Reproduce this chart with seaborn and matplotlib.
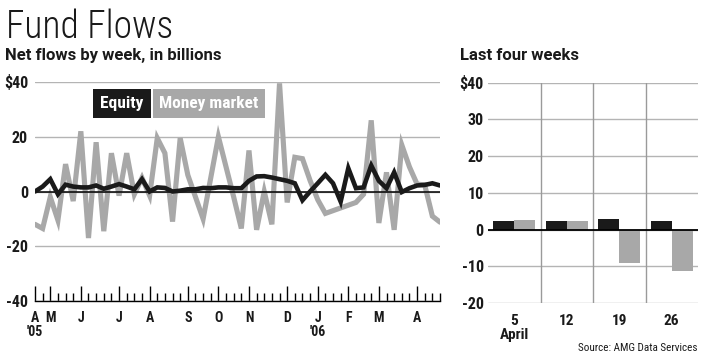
import pandas as pd
import matplotlib
matplotlib.use("Agg")
import matplotlib.pyplot as plt
from matplotlib.patches import Rectangle
import seaborn as sns


# ----------------------- Data
weeks = pd.date_range("2005-04-20", "2006-04-26", freq="7D")  # weekly, 54 points

equity = [0, 1.8, 4.5, -1, 2.5, 1.8, 1.5, 1.5, 2.2, 1, 1.8, 2.7, 1.8, 0.8,
          4.5, 0, 1.5, 1.3, 0, 0.3, 0.8, 0.8, 1.3, 1.2, 1.5, 1.5, 1.2, 1.2,
          3.9, 5.5, 5.6, 5.1, 4.5, 3.9, 3, -3.2, 0, 3, 6.1, 3, -3.7, 8.5,
          1.2, 1.5, 9.5, 3.9, 1.2, 7, -0.2, 1.2, 2.2, 2.4, 3.0, 2.2]

money_market = [-12, -13.5, -2, -10.5, 10, -3.5, 22, -17, 18, -14.5, 14, -1.5,
                14, -1, 5, -1.5, 19.5, 14, -11, 19.5, 6, -2, -10, 5, 20, 9,
                -2, -13.5, 15, -14, 0, -12, 39.5, -4, 12.5, 12, 4, -3, -8, -7,
                -6, -5, -4, -1, 26, -11.5, 7, -14, 17, 9, 2.7, 2.4, -9, -11.2]

last_weeks = ["5\nApril", "12", "19", "26"]
last_equity = [2.2, 2.4, 3.0, 2.2]
last_money = [2.7, 2.4, -9.0, -11.2]

left_ticks = [-40, -20, 0, 20, 40]
left_labels = ["-40", "-20", "0", "20", "$40"]
right_ticks = [-20, -10, 0, 10, 20, 30, 40]
right_labels = ["-20", "-10", "0", "10", "20", "30", "$40"]


BLACK = "#1a1a1a"
GRAY = "#a8a8a8"
GRID = "#b4b4b4"
COND = ["Roboto Condensed", "DejaVu Sans"]
WIDE = ["Roboto", "DejaVu Sans"]

sns.set_style("white")
plt.rcParams["font.family"] = COND
plt.rcParams["text.color"] = BLACK
plt.rcParams["xtick.color"] = BLACK
plt.rcParams["ytick.color"] = BLACK

W, H = 707, 361


def fx(px):
    return px / W


def fy(py):
    return 1 - py / H


fig = plt.figure(figsize=(W / 100, H / 100), dpi=100)
ax = fig.add_axes([fx(35), fy(301), fx(440) - fx(35), fy(82) - fy(301)])
ax2 = fig.add_axes([fx(488), fy(303), fx(698) - fx(488), fy(82.7) - fy(303)])


# ----------------------- Weekly lines
flows = pd.DataFrame({"week": weeks, "Equity": equity, "Money market": money_market})

sns.lineplot(data=flows, x="week", y="Money market", color=GRAY, lw=3.7,
             solid_joinstyle="miter", ax=ax, zorder=2)
ax.axhline(0, color="black", lw=1.1, zorder=3)
sns.lineplot(data=flows, x="week", y="Equity", color=BLACK, lw=3.3,
             solid_joinstyle="miter", ax=ax, zorder=4)

ax.set_xlim(weeks[0], weeks[-1])
ax.set_ylim(-40, 40)
ax.set_xlabel("")
ax.set_ylabel("")

month_start = flows.loc[~flows["week"].dt.to_period("M").duplicated(), "week"]
month_labels = []
for d in month_start:
    lab = d.strftime("%b")[0]
    if d.month == 4 and d.year == 2005:
        lab += "\n'05"
    if d.month == 1:
        lab += "\n'06"
    month_labels.append(lab)

ax.set_xticks(list(month_start), month_labels)
ax.set_xticks(list(weeks), minor=True)
ax.tick_params(axis="x", which="both", bottom=True)
ax.tick_params(axis="x", which="major", direction="in", length=10.5, width=1,
               color="black", pad=7, labelsize=10)
ax.tick_params(axis="x", which="minor", direction="in", length=5.8, width=1,
               color="black")
for t in ax.get_xticklabels():
    t.set_fontweight("bold")
    t.set_linespacing(1.05)

ax.set_yticks(left_ticks, left_labels)
ax.tick_params(axis="y", length=0, pad=5, labelsize=11.5)
for t in ax.get_yticklabels():
    t.set_fontweight("bold")

ax.yaxis.grid(True, color=GRID, lw=1)
ax.xaxis.grid(False)
ax.set_axisbelow(True)
for s in ["left", "top", "right"]:
    ax.spines[s].set_visible(False)
ax.spines["bottom"].set_color("black")
ax.spines["bottom"].set_linewidth(1)


# ----------------------- Last four weeks
recent = pd.DataFrame({
    "week": last_weeks * 2,
    "series": ["Equity"] * 4 + ["Money market"] * 4,
    "flow": last_equity + last_money,
})

sns.barplot(data=recent, x="week", y="flow", hue="series",
            palette=[BLACK, GRAY], saturation=1, width=0.8, errorbar=None,
            legend=False, linewidth=0, ax=ax2, zorder=3)

ax2.set_xlim(-0.5, 3.5)
ax2.set_ylim(-20, 40)
ax2.set_xlabel("")
ax2.set_ylabel("")
ax2.set_yticks(right_ticks, right_labels)
ax2.tick_params(axis="y", length=0, pad=3, labelsize=11.5)
ax2.tick_params(axis="x", length=0, pad=8, labelsize=11)
for t in ax2.get_yticklabels() + ax2.get_xticklabels():
    t.set_fontweight("bold")
    t.set_linespacing(1.0)

ax2.yaxis.grid(True, color=GRID, lw=1)
ax2.set_axisbelow(True)
for x in [0.5, 1.5, 2.5]:
    ax2.axvline(x, color="#9a9a9a", lw=1, zorder=1)
ax2.axhline(0, color="black", lw=1.3, zorder=4)
for s in ax2.spines.values():
    s.set_visible(False)


# ----------------------- Titles, legend, source
fig.text(fx(6), fy(38), "Fund Flows", fontsize=27, family=COND,
         fontweight="light", ha="left", va="baseline")
fig.text(fx(5), fy(60), "Net flows by week, in billions", fontsize=12,
         family=WIDE, fontweight="bold", ha="left", va="baseline")
fig.text(fx(460), fy(60), "Last four weeks", fontsize=12,
         family=WIDE, fontweight="bold", ha="left", va="baseline")

fig.add_artist(Rectangle((fx(93), fy(118)), fx(151) - fx(93), fy(89) - fy(118),
                         transform=fig.transFigure, color=BLACK, lw=0))
fig.add_artist(Rectangle((fx(152.5), fy(118)), fx(265) - fx(152.5), fy(89) - fy(118),
                         transform=fig.transFigure, color=GRAY, lw=0))
fig.text(fx(122), fy(103.5), "Equity", color="white", fontsize=12.5,
         fontweight="bold", ha="center", va="center")
fig.text(fx(208.5), fy(103.5), "Money market", color="white", fontsize=12.5,
         fontweight="bold", ha="center", va="center")

fig.text(fx(698), fy(348), "Source: AMG Data Services", fontsize=8,
         ha="right", va="center")

fig.savefig("out.png", dpi=100)
